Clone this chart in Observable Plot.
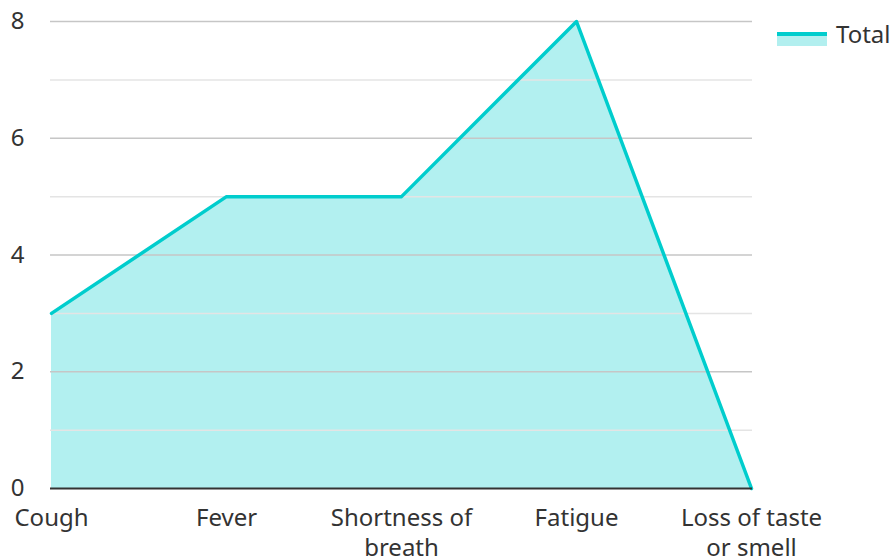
<!DOCTYPE html>
<html><head><meta charset="utf-8">
<script src="https://cdn.jsdelivr.net/npm/d3@7"></script>
<script src="https://cdn.jsdelivr.net/npm/@observablehq/plot@0.6"></script>
<style>
body{margin:0;background:#fff;font-family:"Noto Sans",sans-serif}
#wrap{position:relative;width:893px;height:560px}
#legend{position:absolute;left:777px;top:17px;display:flex;align-items:center;font-size:24px;color:#333}
#legend .sw{width:50px;height:14px;position:relative;margin-right:9px;top:5px}
#legend .sw .l{position:absolute;left:0;top:0;width:50px;height:4px;background:#00cdcd}
#legend .sw .f{position:absolute;left:0;top:4px;width:50px;height:10px;background:#b2efef}
</style></head><body><div id="wrap"><div id="legend"><div class="sw"><div class="l"></div><div class="f"></div></div><span>Total</span></div></div>
<script>
const categories = ["Cough","Fever","Shortness of breath","Fatigue","Loss of taste or smell"];
const tickLabels = ["Cough","Fever","Shortness of\nbreath","Fatigue","Loss of taste\nor smell"];
const totals = [3,5,5,8,0];
const yTicks = [0,2,4,6,8];
const majorGrid = [2,4,6,8];
const minorGrid = [1,3,5,7];
const data = categories.map((c,i)=>({category:c,value:totals[i]}));
const labelMap = new Map(categories.map((c,i)=>[c,tickLabels[i]]));
const chart = Plot.plot({
  width:893,height:560,marginLeft:50,marginRight:141,marginTop:21,marginBottom:72,
  style:{fontFamily:'"Noto Sans",sans-serif',fontSize:"24px",color:"#333",background:"#fff"},
  x:{type:"point",domain:categories,padding:0,label:null,axis:null},
  y:{domain:[0,8],label:null,axis:null},
  marks:[
    Plot.areaY(data,{x:"category",y:"value",fill:"#00cdcd",fillOpacity:0.3}),
    Plot.ruleY(minorGrid,{stroke:"#e4e4e4",strokeWidth:1.5}),
    Plot.ruleY(majorGrid,{stroke:"#c6c6c6",strokeWidth:1.5}),
    Plot.lineY(data,{x:"category",y:"value",stroke:"#00cdcd",strokeWidth:3.5}),
    Plot.ruleY([0],{stroke:"#333",strokeWidth:2}),
    Plot.axisY({ticks:yTicks,tickSize:0,tickPadding:26,fontSize:24,tickFormat:d=>String(d)}),
    Plot.axisX({tickSize:0,tickPadding:16,fontSize:24,tickFormat:d=>labelMap.get(d),lineHeight:1.25})
  ]
});
document.getElementById("wrap").prepend(chart);
</script>
</body></html>
